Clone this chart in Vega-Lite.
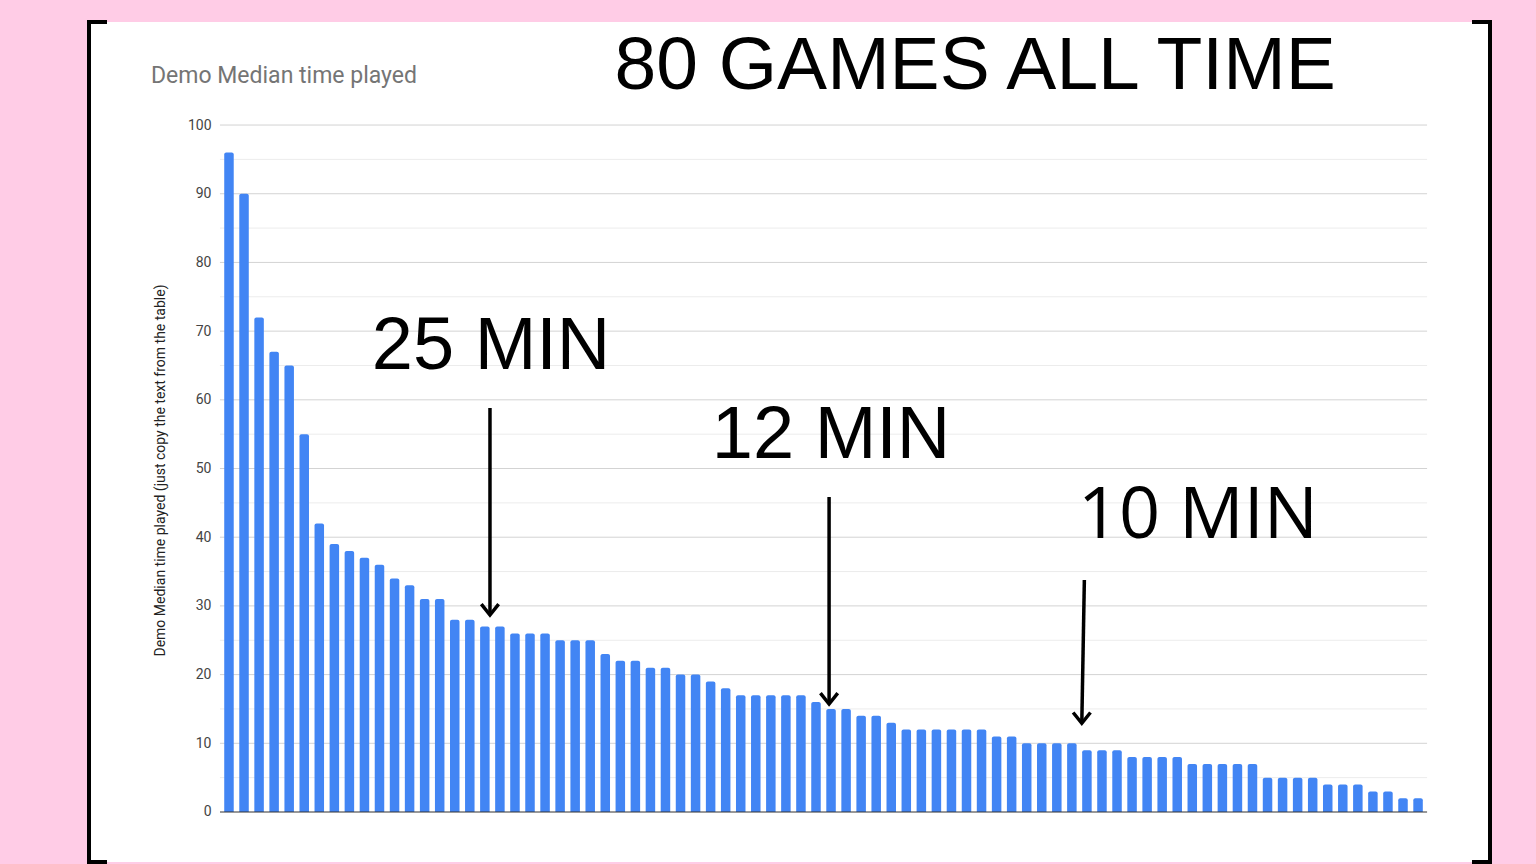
{
  "$schema": "https://vega.github.io/schema/vega-lite/v6.json",
  "width": 1401,
  "height": 840,
  "autosize": {"type": "none"},
  "padding": {"left": 89, "top": 22, "right": 46, "bottom": 2},
  "background": "#ffcce6",
  "config": {
    "view": {"fill": "white", "stroke": "black", "strokeWidth": 4, "strokeDash": [18, 1365, 876, 1365, 858]}
  },
  "title": {
    "text": "Demo Median time played",
    "anchor": "start",
    "frame": "group",
    "orient": "top",
    "offset": 0,
    "dx": 62,
    "dy": 84,
    "baseline": "alphabetic",
    "font": "Roboto",
    "fontSize": 23,
    "fontWeight": "normal",
    "color": "#757575"
  },
  "datasets": {
    "games": [
      {"game": 1, "minutes": 96}, {"game": 2, "minutes": 90}, {"game": 3, "minutes": 72}, {"game": 4, "minutes": 67},
      {"game": 5, "minutes": 65}, {"game": 6, "minutes": 55}, {"game": 7, "minutes": 42}, {"game": 8, "minutes": 39},
      {"game": 9, "minutes": 38}, {"game": 10, "minutes": 37}, {"game": 11, "minutes": 36}, {"game": 12, "minutes": 34},
      {"game": 13, "minutes": 33}, {"game": 14, "minutes": 31}, {"game": 15, "minutes": 31}, {"game": 16, "minutes": 28},
      {"game": 17, "minutes": 28}, {"game": 18, "minutes": 27}, {"game": 19, "minutes": 27}, {"game": 20, "minutes": 26},
      {"game": 21, "minutes": 26}, {"game": 22, "minutes": 26}, {"game": 23, "minutes": 25}, {"game": 24, "minutes": 25},
      {"game": 25, "minutes": 25}, {"game": 26, "minutes": 23}, {"game": 27, "minutes": 22}, {"game": 28, "minutes": 22},
      {"game": 29, "minutes": 21}, {"game": 30, "minutes": 21}, {"game": 31, "minutes": 20}, {"game": 32, "minutes": 20},
      {"game": 33, "minutes": 19}, {"game": 34, "minutes": 18}, {"game": 35, "minutes": 17}, {"game": 36, "minutes": 17},
      {"game": 37, "minutes": 17}, {"game": 38, "minutes": 17}, {"game": 39, "minutes": 17}, {"game": 40, "minutes": 16},
      {"game": 41, "minutes": 15}, {"game": 42, "minutes": 15}, {"game": 43, "minutes": 14}, {"game": 44, "minutes": 14},
      {"game": 45, "minutes": 13}, {"game": 46, "minutes": 12}, {"game": 47, "minutes": 12}, {"game": 48, "minutes": 12},
      {"game": 49, "minutes": 12}, {"game": 50, "minutes": 12}, {"game": 51, "minutes": 12}, {"game": 52, "minutes": 11},
      {"game": 53, "minutes": 11}, {"game": 54, "minutes": 10}, {"game": 55, "minutes": 10}, {"game": 56, "minutes": 10},
      {"game": 57, "minutes": 10}, {"game": 58, "minutes": 9}, {"game": 59, "minutes": 9}, {"game": 60, "minutes": 9},
      {"game": 61, "minutes": 8}, {"game": 62, "minutes": 8}, {"game": 63, "minutes": 8}, {"game": 64, "minutes": 8},
      {"game": 65, "minutes": 7}, {"game": 66, "minutes": 7}, {"game": 67, "minutes": 7}, {"game": 68, "minutes": 7},
      {"game": 69, "minutes": 7}, {"game": 70, "minutes": 5}, {"game": 71, "minutes": 5}, {"game": 72, "minutes": 5},
      {"game": 73, "minutes": 5}, {"game": 74, "minutes": 4}, {"game": 75, "minutes": 4}, {"game": 76, "minutes": 4},
      {"game": 77, "minutes": 3}, {"game": 78, "minutes": 3}, {"game": 79, "minutes": 2}, {"game": 80, "minutes": 2}
    ],
    "grid": [
      {"v": 5, "kind": "minor"}, {"v": 15, "kind": "minor"}, {"v": 25, "kind": "minor"}, {"v": 35, "kind": "minor"},
      {"v": 45, "kind": "minor"}, {"v": 55, "kind": "minor"}, {"v": 65, "kind": "minor"}, {"v": 75, "kind": "minor"},
      {"v": 85, "kind": "minor"}, {"v": 95, "kind": "minor"},
      {"v": 10, "kind": "major"}, {"v": 20, "kind": "major"}, {"v": 30, "kind": "major"}, {"v": 40, "kind": "major"},
      {"v": 50, "kind": "major"}, {"v": 60, "kind": "major"}, {"v": 70, "kind": "major"}, {"v": 80, "kind": "major"},
      {"v": 90, "kind": "major"}, {"v": 100, "kind": "major"}
    ],
    "notes": [
      {"label": "25 MIN", "labelGame": 18.41, "labelMinutes": 64.48, "game": 18.34, "top": 58.81, "tipGame": 18.34, "tip": 28.68},
      {"label": "12 MIN", "labelGame": 41.0, "labelMinutes": 51.49, "game": 40.87, "top": 45.85, "tipGame": 40.87, "tip": 15.72},
      {"label": "10 MIN", "labelGame": 65.38, "labelMinutes": 39.84, "game": 57.83, "top": 33.77, "tipGame": 57.66, "tip": 12.91}
    ],
    "headline": [
      {"text": "80 GAMES ALL TIME", "game": 50.57, "minutes": 105.24}
    ]
  },
  "layer": [
    {
      "data": {"name": "grid"},
      "mark": {"type": "rule", "strokeWidth": 1},
      "encoding": {
        "y": {"field": "v", "type": "quantitative", "scale": {"domain": [-7.28, 115], "nice": false, "zero": false, "padding": 0}},
        "x": {"datum": 0.4, "type": "quantitative", "scale": {"domain": [-8.30, 84.78], "nice": false, "zero": false, "padding": 0}, "axis": null},
        "x2": {"datum": 80.6},
        "color": {"field": "kind", "type": "nominal", "scale": {"domain": ["major", "minor"], "range": ["#d3d3d3", "#ececec"]}, "legend": null}
      }
    },
    {
      "data": {"name": "games"},
      "mark": {"type": "bar", "size": 9.5, "color": "#4285f4", "cornerRadiusTopLeft": 2, "cornerRadiusTopRight": 2},
      "encoding": {
        "x": {"field": "game", "type": "quantitative", "scale": {"domain": [-8.30, 84.78], "nice": false, "zero": false, "padding": 0}, "axis": null},
        "y": {
          "field": "minutes",
          "type": "quantitative",
          "title": "Demo Median time played (just copy the text from the table)",
          "scale": {"domain": [-7.28, 115], "nice": false, "zero": false, "padding": 0},
          "axis": {
            "orient": "left",
            "offset": 0,
            "values": [0, 10, 20, 30, 40, 50, 60, 70, 80, 90, 100],
            "domain": false,
            "ticks": false,
            "grid": false,
            "labelPadding": -122,
            "labelAlign": "right",
            "labelFont": "Roboto",
            "labelFontSize": 14,
            "labelColor": "#444444",
            "title": "Demo Median time played (just copy the text from the table)",
            "titleFont": "Roboto",
            "titleFontSize": 14,
            "titleFontWeight": "normal",
            "titleColor": "#222222",
            "titleX": 75,
            "titleY": 448,
            "titleAngle": 270,
            "titleAlign": "center",
            "titleBaseline": "alphabetic",
            "zindex": 1
          }
        },
        "y2": {"datum": 0}
      }
    },
    {
      "data": {"values": [{"v": 0}]},
      "mark": {"type": "rule", "strokeWidth": 1.2, "color": "#333333"},
      "encoding": {
        "y": {"field": "v", "type": "quantitative"},
        "x": {"datum": 0.4, "type": "quantitative", "axis": null},
        "x2": {"datum": 80.6}
      }
    },
    {
      "data": {"name": "notes"},
      "mark": {"type": "rule", "strokeWidth": 3.5, "color": "black"},
      "encoding": {
        "x": {"field": "game", "type": "quantitative", "axis": null},
        "x2": {"field": "tipGame"},
        "y": {"field": "top", "type": "quantitative"},
        "y2": {"field": "tip"}
      }
    },
    {
      "data": {"name": "notes"},
      "mark": {"type": "point", "shape": "M-1,-1.25L0,0L1,-1.25", "filled": false, "stroke": "black", "strokeWidth": 3.5, "size": 300, "opacity": 1, "strokeJoin": "miter"},
      "encoding": {
        "x": {"field": "tipGame", "type": "quantitative", "axis": null},
        "y": {"field": "tip", "type": "quantitative"}
      }
    },
    {
      "data": {"name": "notes"},
      "transform": [{"filter": "datum.label != '10 MIN'"}],
      "mark": {"type": "text", "font": "Liberation Sans", "fontSize": 74, "color": "black", "align": "center", "baseline": "alphabetic"},
      "encoding": {
        "x": {"field": "labelGame", "type": "quantitative", "axis": null},
        "y": {"field": "labelMinutes", "type": "quantitative"},
        "text": {"field": "label"}
      }
    },
    {
      "data": {"name": "notes"},
      "transform": [{"filter": "datum.label == '10 MIN'"}],
      "mark": {"type": "text", "font": "Open Sans", "fontSize": 72, "color": "black", "align": "center", "baseline": "alphabetic"},
      "encoding": {
        "x": {"field": "labelGame", "type": "quantitative", "axis": null},
        "y": {"field": "labelMinutes", "type": "quantitative"},
        "text": {"field": "label"}
      }
    },
    {
      "data": {"name": "headline"},
      "mark": {"type": "text", "font": "Liberation Sans", "fontSize": 75, "color": "black", "align": "center", "baseline": "alphabetic"},
      "encoding": {
        "x": {"field": "game", "type": "quantitative", "axis": null},
        "y": {"field": "minutes", "type": "quantitative"},
        "text": {"field": "text"}
      }
    }
  ]
}
